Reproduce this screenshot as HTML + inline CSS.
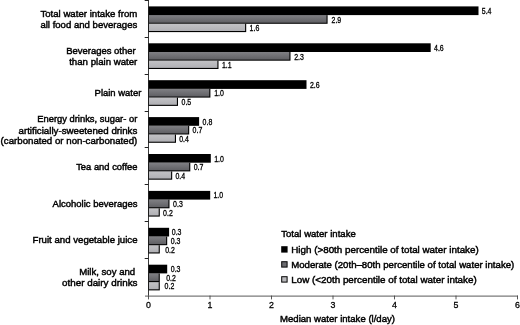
<!DOCTYPE html><html><head><meta charset="utf-8"><style>html,body{margin:0;padding:0;background:#fff;overflow:hidden}svg{display:block}text{font-family:"Liberation Sans",sans-serif;fill:#000;stroke:#000;stroke-width:0.45px}</style></head><body>
<svg width="520" height="325" viewBox="0 0 520 325">
<defs><linearGradient id="g1" x1="0" y1="0" x2="0" y2="1"><stop offset="0" stop-color="#808084"/><stop offset="1" stop-color="#606064"/></linearGradient><linearGradient id="g2" x1="0" y1="0" x2="0" y2="1"><stop offset="0" stop-color="#c2c2c5"/><stop offset="1" stop-color="#b0b0b4"/></linearGradient></defs>
<rect width="520" height="325" fill="#fff"/>
<line x1="148.5" y1="0" x2="148.5" y2="296.4" stroke="#3a3a3a" stroke-width="1"/>
<line x1="145" y1="296.09999999999997" x2="518" y2="296.09999999999997" stroke="#7a7a7a" stroke-width="1.3"/>
<line x1="144.7" y1="0.50" x2="148.5" y2="0.50" stroke="#222" stroke-width="1"/>
<line x1="144.7" y1="37.50" x2="148.5" y2="37.50" stroke="#222" stroke-width="1"/>
<line x1="144.7" y1="74.50" x2="148.5" y2="74.50" stroke="#222" stroke-width="1"/>
<line x1="144.7" y1="111.50" x2="148.5" y2="111.50" stroke="#222" stroke-width="1"/>
<line x1="144.7" y1="147.50" x2="148.5" y2="147.50" stroke="#222" stroke-width="1"/>
<line x1="144.7" y1="184.50" x2="148.5" y2="184.50" stroke="#222" stroke-width="1"/>
<line x1="144.7" y1="221.50" x2="148.5" y2="221.50" stroke="#222" stroke-width="1"/>
<line x1="144.7" y1="258.50" x2="148.5" y2="258.50" stroke="#222" stroke-width="1"/>
<line x1="148.5" y1="295.59999999999997" x2="148.5" y2="299.4" stroke="#444" stroke-width="0.9"/>
<text x="148.5" y="308.3" font-size="9.3" text-anchor="middle" style="stroke-width:0.3px" textLength="4.9" lengthAdjust="spacingAndGlyphs">0</text>
<line x1="210.0" y1="295.59999999999997" x2="210.0" y2="299.4" stroke="#444" stroke-width="0.9"/>
<text x="210.0" y="308.3" font-size="9.3" text-anchor="middle" style="stroke-width:0.3px" textLength="4.9" lengthAdjust="spacingAndGlyphs">1</text>
<line x1="271.5" y1="295.59999999999997" x2="271.5" y2="299.4" stroke="#444" stroke-width="0.9"/>
<text x="271.5" y="308.3" font-size="9.3" text-anchor="middle" style="stroke-width:0.3px" textLength="4.9" lengthAdjust="spacingAndGlyphs">2</text>
<line x1="333.0" y1="295.59999999999997" x2="333.0" y2="299.4" stroke="#444" stroke-width="0.9"/>
<text x="333.0" y="308.3" font-size="9.3" text-anchor="middle" style="stroke-width:0.3px" textLength="4.9" lengthAdjust="spacingAndGlyphs">3</text>
<line x1="394.5" y1="295.59999999999997" x2="394.5" y2="299.4" stroke="#444" stroke-width="0.9"/>
<text x="394.5" y="308.3" font-size="9.3" text-anchor="middle" style="stroke-width:0.3px" textLength="4.9" lengthAdjust="spacingAndGlyphs">4</text>
<line x1="456.0" y1="295.59999999999997" x2="456.0" y2="299.4" stroke="#444" stroke-width="0.9"/>
<text x="456.0" y="308.3" font-size="9.3" text-anchor="middle" style="stroke-width:0.3px" textLength="4.9" lengthAdjust="spacingAndGlyphs">5</text>
<line x1="517.5" y1="295.59999999999997" x2="517.5" y2="299.4" stroke="#444" stroke-width="0.9"/>
<text x="517.5" y="308.3" font-size="9.3" text-anchor="middle" style="stroke-width:0.3px" textLength="4.9" lengthAdjust="spacingAndGlyphs">6</text>
<rect x="148.5" y="6.40" width="330.00" height="8.70" fill="#000"/>
<text x="481.80" y="13.95" font-size="8.4" textLength="9.70" lengthAdjust="spacingAndGlyphs" stroke-width="0.3" style="stroke-width:0.3px">5.4</text>
<rect x="148.5" y="15.10" width="179.10" height="8.70" fill="#000"/>
<rect x="149.0" y="15.10" width="177.50" height="7.65" fill="url(#g1)"/>
<text x="331.50" y="22.65" font-size="8.4" textLength="9.70" lengthAdjust="spacingAndGlyphs" stroke-width="0.3" style="stroke-width:0.3px">2.9</text>
<rect x="148.5" y="23.80" width="97.70" height="8.30" fill="#000"/>
<rect x="149.0" y="23.85" width="96.10" height="7.15" fill="url(#g2)"/>
<text x="249.60" y="31.15" font-size="8.4" textLength="9.70" lengthAdjust="spacingAndGlyphs" stroke-width="0.3" style="stroke-width:0.3px">1.6</text>
<rect x="148.5" y="43.30" width="282.20" height="8.70" fill="#000"/>
<text x="434.00" y="50.85" font-size="8.4" textLength="9.70" lengthAdjust="spacingAndGlyphs" stroke-width="0.3" style="stroke-width:0.3px">4.6</text>
<rect x="148.5" y="52.00" width="142.00" height="8.70" fill="#000"/>
<rect x="149.0" y="52.00" width="140.40" height="7.65" fill="url(#g1)"/>
<text x="294.20" y="59.55" font-size="8.4" textLength="9.70" lengthAdjust="spacingAndGlyphs" stroke-width="0.3" style="stroke-width:0.3px">2.3</text>
<rect x="148.5" y="60.70" width="70.00" height="8.30" fill="#000"/>
<rect x="149.0" y="60.75" width="68.40" height="7.15" fill="url(#g2)"/>
<text x="221.90" y="68.05" font-size="8.4" textLength="9.70" lengthAdjust="spacingAndGlyphs" stroke-width="0.3" style="stroke-width:0.3px">1.1</text>
<rect x="148.5" y="80.20" width="158.00" height="8.70" fill="#000"/>
<text x="309.90" y="87.75" font-size="8.4" textLength="9.70" lengthAdjust="spacingAndGlyphs" stroke-width="0.3" style="stroke-width:0.3px">2.6</text>
<rect x="148.5" y="88.90" width="61.90" height="8.70" fill="#000"/>
<rect x="149.0" y="88.90" width="60.30" height="7.65" fill="url(#g1)"/>
<text x="214.20" y="96.45" font-size="8.4" textLength="9.70" lengthAdjust="spacingAndGlyphs" stroke-width="0.3" style="stroke-width:0.3px">1.0</text>
<rect x="148.5" y="97.60" width="29.50" height="8.30" fill="#000"/>
<rect x="149.0" y="97.65" width="27.90" height="7.15" fill="url(#g2)"/>
<text x="181.50" y="104.95" font-size="8.4" textLength="9.70" lengthAdjust="spacingAndGlyphs" stroke-width="0.3" style="stroke-width:0.3px">0.5</text>
<rect x="148.5" y="117.10" width="50.60" height="8.70" fill="#000"/>
<text x="202.60" y="124.65" font-size="8.4" textLength="9.70" lengthAdjust="spacingAndGlyphs" stroke-width="0.3" style="stroke-width:0.3px">0.8</text>
<rect x="148.5" y="125.80" width="40.70" height="8.70" fill="#000"/>
<rect x="149.0" y="125.80" width="39.10" height="7.65" fill="url(#g1)"/>
<text x="192.60" y="133.35" font-size="8.4" textLength="9.70" lengthAdjust="spacingAndGlyphs" stroke-width="0.3" style="stroke-width:0.3px">0.7</text>
<rect x="148.5" y="134.50" width="27.50" height="8.30" fill="#000"/>
<rect x="149.0" y="134.55" width="25.90" height="7.15" fill="url(#g2)"/>
<text x="179.20" y="141.85" font-size="8.4" textLength="9.70" lengthAdjust="spacingAndGlyphs" stroke-width="0.3" style="stroke-width:0.3px">0.4</text>
<rect x="148.5" y="154.00" width="62.30" height="8.70" fill="#000"/>
<text x="214.20" y="161.55" font-size="8.4" textLength="9.70" lengthAdjust="spacingAndGlyphs" stroke-width="0.3" style="stroke-width:0.3px">1.0</text>
<rect x="148.5" y="162.70" width="41.80" height="8.70" fill="#000"/>
<rect x="149.0" y="162.70" width="40.20" height="7.65" fill="url(#g1)"/>
<text x="193.70" y="170.25" font-size="8.4" textLength="9.70" lengthAdjust="spacingAndGlyphs" stroke-width="0.3" style="stroke-width:0.3px">0.7</text>
<rect x="148.5" y="171.40" width="23.70" height="8.30" fill="#000"/>
<rect x="149.0" y="171.45" width="22.10" height="7.15" fill="url(#g2)"/>
<text x="175.40" y="178.75" font-size="8.4" textLength="9.70" lengthAdjust="spacingAndGlyphs" stroke-width="0.3" style="stroke-width:0.3px">0.4</text>
<rect x="148.5" y="190.90" width="61.70" height="8.70" fill="#000"/>
<text x="213.40" y="198.45" font-size="8.4" textLength="9.70" lengthAdjust="spacingAndGlyphs" stroke-width="0.3" style="stroke-width:0.3px">1.0</text>
<rect x="148.5" y="199.60" width="21.00" height="8.70" fill="#000"/>
<rect x="149.0" y="199.60" width="19.40" height="7.65" fill="url(#g1)"/>
<text x="173.10" y="207.15" font-size="8.4" textLength="9.70" lengthAdjust="spacingAndGlyphs" stroke-width="0.3" style="stroke-width:0.3px">0.3</text>
<rect x="148.5" y="208.30" width="11.30" height="8.30" fill="#000"/>
<rect x="149.0" y="208.35" width="9.70" height="7.15" fill="url(#g2)"/>
<text x="163.10" y="215.65" font-size="8.4" textLength="9.70" lengthAdjust="spacingAndGlyphs" stroke-width="0.3" style="stroke-width:0.3px">0.2</text>
<rect x="148.5" y="227.80" width="20.60" height="8.70" fill="#000"/>
<text x="171.80" y="235.35" font-size="8.4" textLength="9.70" lengthAdjust="spacingAndGlyphs" stroke-width="0.3" style="stroke-width:0.3px">0.3</text>
<rect x="148.5" y="236.50" width="18.70" height="8.70" fill="#000"/>
<rect x="149.0" y="236.50" width="17.10" height="7.65" fill="url(#g1)"/>
<text x="170.80" y="244.05" font-size="8.4" textLength="9.70" lengthAdjust="spacingAndGlyphs" stroke-width="0.3" style="stroke-width:0.3px">0.3</text>
<rect x="148.5" y="245.20" width="11.30" height="8.30" fill="#000"/>
<rect x="149.0" y="245.25" width="9.70" height="7.15" fill="url(#g2)"/>
<text x="165.20" y="252.55" font-size="8.4" textLength="9.70" lengthAdjust="spacingAndGlyphs" stroke-width="0.3" style="stroke-width:0.3px">0.2</text>
<rect x="148.5" y="264.70" width="18.70" height="8.70" fill="#000"/>
<text x="170.80" y="272.25" font-size="8.4" textLength="9.70" lengthAdjust="spacingAndGlyphs" stroke-width="0.3" style="stroke-width:0.3px">0.3</text>
<rect x="148.5" y="273.40" width="11.30" height="8.70" fill="#000"/>
<rect x="149.0" y="273.40" width="9.70" height="7.65" fill="url(#g1)"/>
<text x="166.20" y="280.95" font-size="8.4" textLength="9.70" lengthAdjust="spacingAndGlyphs" stroke-width="0.3" style="stroke-width:0.3px">0.2</text>
<rect x="148.5" y="282.10" width="11.30" height="8.30" fill="#000"/>
<rect x="149.0" y="282.15" width="9.70" height="7.15" fill="url(#g2)"/>
<text x="164.60" y="289.45" font-size="8.4" textLength="9.70" lengthAdjust="spacingAndGlyphs" stroke-width="0.3" style="stroke-width:0.3px">0.2</text>
<text x="40.40" y="17.00" font-size="9.7" textLength="96.90" lengthAdjust="spacingAndGlyphs" >Total water intake from</text>
<text x="40.40" y="28.00" font-size="9.7" textLength="96.90" lengthAdjust="spacingAndGlyphs" >all food and beverages</text>
<text x="66.20" y="54.00" font-size="9.7" textLength="69.50" lengthAdjust="spacingAndGlyphs" >Beverages other</text>
<text x="69.20" y="64.80" font-size="9.7" textLength="68.10" lengthAdjust="spacingAndGlyphs" >than plain water</text>
<text x="94.60" y="96.00" font-size="9.7" textLength="46.70" lengthAdjust="spacingAndGlyphs" >Plain water</text>
<text x="37.20" y="122.40" font-size="9.7" textLength="100.10" lengthAdjust="spacingAndGlyphs" >Energy drinks, sugar- or</text>
<text x="18.50" y="133.50" font-size="9.7" textLength="118.80" lengthAdjust="spacingAndGlyphs" >artificially-sweetened drinks</text>
<text x="0.60" y="144.40" font-size="9.7" textLength="136.70" lengthAdjust="spacingAndGlyphs" >(carbonated or non-carbonated)</text>
<text x="76.20" y="169.90" font-size="9.7" textLength="61.30" lengthAdjust="spacingAndGlyphs" >Tea and coffee</text>
<text x="52.60" y="206.60" font-size="9.7" textLength="84.90" lengthAdjust="spacingAndGlyphs" >Alcoholic beverages</text>
<text x="32.50" y="243.20" font-size="9.7" textLength="105.00" lengthAdjust="spacingAndGlyphs" >Fruit and vegetable juice</text>
<text x="79.20" y="275.20" font-size="9.7" textLength="56.00" lengthAdjust="spacingAndGlyphs" >Milk, soy and</text>
<text x="62.00" y="285.80" font-size="9.7" textLength="75.50" lengthAdjust="spacingAndGlyphs" >other dairy drinks</text>
<!--MORE-->
<text x="281.25" y="237.10" font-size="9.7" textLength="74.50" lengthAdjust="spacingAndGlyphs" >Total water intake</text>
<rect x="281.2" y="246.20" width="6.4" height="6.4" fill="#000"/>
<text x="291.25" y="252.60" font-size="9.7" textLength="187.50" lengthAdjust="spacingAndGlyphs" >High (&gt;80th percentile of total water intake)</text>
<rect x="281.2" y="261.20" width="6.4" height="6.4" fill="#000"/>
<rect x="282.2" y="262.20" width="4.4" height="4.4" fill="#6c6c70"/>
<text x="291.25" y="267.60" font-size="9.7" textLength="223.00" lengthAdjust="spacingAndGlyphs" >Moderate (20th–80th percentile of total water intake)</text>
<rect x="281.2" y="276.20" width="6.4" height="6.4" fill="#000"/>
<rect x="282.2" y="277.20" width="4.4" height="4.4" fill="#b9b9bc"/>
<text x="291.25" y="282.60" font-size="9.7" textLength="185.50" lengthAdjust="spacingAndGlyphs" >Low (&lt;20th percentile of total water intake)</text>
<text x="280.00" y="321.60" font-size="9.7" textLength="115.00" lengthAdjust="spacingAndGlyphs" >Median water intake (l/day)</text>
</svg></body></html>
